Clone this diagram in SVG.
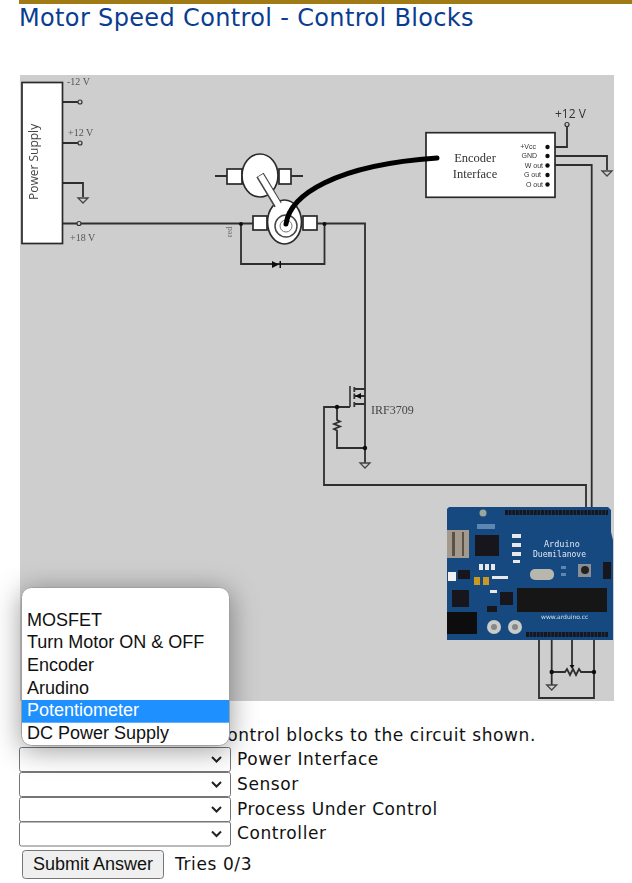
<svg xmlns="http://www.w3.org/2000/svg" width="632" height="883" viewBox="0 0 632 883">
<style>
.w{fill:none;stroke:#2e2e2e;stroke-width:1.8}
.b{fill:#fff;stroke:#2a2a2a;stroke-width:1.7}
.d{fill:#111}
.o{fill:#cecece;stroke:#333;stroke-width:1.2}
.s{font-family:"Liberation Serif",serif;fill:#555}
.p{font-family:"DejaVu Sans",sans-serif;fill:#111;font-size:17px;letter-spacing:.6px}
.a{font-family:"Liberation Sans",Arial,sans-serif;fill:#111;font-size:18px}
.l{font-family:"Liberation Sans",Arial,sans-serif;fill:#333;font-size:7px;text-anchor:end}
.sel{fill:#fff;stroke:#767676;stroke-width:1}
.chev{fill:none;stroke:#222;stroke-width:2}
.g{fill:none;stroke:#444;stroke-width:1.3}
.t{font-family:"DejaVu Sans",sans-serif;font-size:6px;fill:#cfe0f0}
.pad{fill:#e8e8e8}
.lb{fill:#5d86b4}
.blk{fill:#15181c}
.hdr{fill:none;stroke:#16181c;stroke-width:5;stroke-dasharray:3 .6}
</style>
<defs>
<filter id="soft" x="-5%" y="-5%" width="110%" height="110%"><feGaussianBlur stdDeviation="0.45"/></filter>
<filter id="shadow" x="-30%" y="-30%" width="160%" height="160%"><feDropShadow dx="0" dy="4" stdDeviation="14" flood-color="#000" flood-opacity="0.4"/></filter>
<g id="ground"><path class="g" d="M-5,0H5L0,5Z"/></g>
</defs>
<rect width="632" height="883" fill="#fff"/>
<rect x="19" y="0" width="613" height="4" fill="#a07a14"/>
<text x="19" y="26" font-family="'DejaVu Sans',sans-serif" font-size="24" letter-spacing=".35" fill="#0a3d91">Motor Speed Control - Control Blocks</text>
<g id="circuit" filter="url(#soft)">
<rect x="20" y="75" width="594" height="626" fill="#cecece"/>
<g id="connectors">
<path class="w" d="M62,102H78 M62,143H78 M62,183H83V197 M62,223.500H253 M317,223.500H365V389"/>
<path class="w" d="M241,224V264H324.500V224 M215,176H227 M291,176H303"/>
<path class="w" d="M365,389H354 M354,396H365 M354,404H365 M365,389V463"/>
<path class="w" d="M350,407H324V485H586V508"/>
<path class="w" d="M337,407V420l3,1.500-6,2.500 6,2.500-6,2.500 3,1.500V448H365"/>
<path class="w" d="M547,147H567V127 M547,156H607V170 M547,165H591.700V508"/>
<path class="w" d="M539,640V698H594V640 M551.700,640V685 M572,640V666 M551.700,672H565l2-3 3,6 3-6 3,6 3-6 2,3H594"/>
</g>
<g id="power-supply">
<rect class="b" x="22" y="82.500" width="40.500" height="161"/>
<text transform="translate(38,200) rotate(-90)" font-family="'Open Sans','DejaVu Sans',sans-serif" font-size="12" fill="#444">Power Supply</text>
<circle class="o" cx="80" cy="102" r="2"/><circle class="o" cx="80" cy="143" r="2"/><circle class="o" cx="79" cy="223.500" r="2"/>
<use href="#ground" x="83" y="198"/>
<text class="s" x="67" y="85" font-size="10">-12 V</text>
<text class="s" x="68" y="136" font-size="10">+12 V</text>
<text class="s" x="70" y="241" font-size="10">+18 V</text>
</g>
<g id="motor-top">
<rect class="b" x="227" y="169" width="15" height="15"/><rect class="b" x="279" y="169" width="12" height="15"/>
<ellipse class="b" cx="260" cy="175.500" rx="18" ry="21.500"/>
</g>
<g id="motor-bottom">
<rect class="b" x="253" y="216" width="14" height="14"/><rect class="b" x="303" y="216" width="14" height="14"/>
<ellipse class="b" cx="284.500" cy="222" rx="17" ry="22"/>
<path d="M260,175L278,205" stroke="#444" stroke-width="8.500"/>
<path d="M260.500,175.500L279,206" stroke="#fff" stroke-width="6"/>
<circle cx="286" cy="226" r="11" fill="#fff" stroke="#444" stroke-width="1.500"/><circle cx="286" cy="226" r="6" fill="#fff" stroke="#777"/>
<circle class="d" cx="241" cy="224" r="2"/><circle class="d" cx="324.500" cy="224" r="2"/>
<path class="d" d="M272,261L279,264.500L272,268Z M279.500,261H281V268H279.500Z"/>
<text transform="translate(232,237) rotate(-90)" font-family="'Liberation Serif',serif" font-size="8" fill="#666">red</text>
</g>
<g id="encoder">
<rect class="b" x="426" y="132.700" width="129" height="64.600"/>
<text x="475" y="162" text-anchor="middle" font-family="'Liberation Serif',serif" font-size="12.500" fill="#333">Encoder</text>
<text x="475" y="178" text-anchor="middle" font-family="'Liberation Serif',serif" font-size="12.500" fill="#333">Interface</text>
<text class="l" x="536" y="149">+Vcc</text><text class="l" x="537" y="158">GND</text><text class="l" x="543" y="167.500">W out</text><text class="l" x="541" y="177">G out</text><text class="l" x="543" y="187">O out</text>
<circle class="d" cx="547.500" cy="147" r="2.200"/><circle class="d" cx="547.500" cy="156" r="2.200"/><circle class="d" cx="547.500" cy="165.500" r="2.200"/><circle class="d" cx="547.500" cy="175" r="2.200"/><circle class="d" cx="547.500" cy="184.500" r="2.200"/>
<circle class="o" cx="567" cy="124.500" r="2"/>
<text x="555" y="118" font-family="'Open Sans','DejaVu Sans',sans-serif" font-size="12" fill="#333">+12 V</text>
<use href="#ground" x="607" y="171"/>
</g>
<path id="encoder-cable" d="M286,224C290,195 335,165 437,158" fill="none" stroke="#000" stroke-width="5" stroke-linecap="round"/>
<g id="mosfet">
<path d="M350,386V407" stroke="#333" stroke-width="1.600"/>
<path d="M354.300,387V392 M354.300,393.500V399 M354.300,402V407" stroke="#333" stroke-width="1.800"/>
<path class="d" d="M355,396L361,393V399Z"/>
<circle class="d" cx="337" cy="407" r="2.200"/><circle class="d" cx="365" cy="448" r="2.200"/>
<use href="#ground" x="365" y="463"/>
<text class="s" x="371" y="414" font-size="12" style="fill:#444">IRF3709</text>
</g>
<g id="arduino">
<path d="M449,507H608L611,510V532L613,540V640H447V509Z" fill="#164a80"/>
<path class="hdr" d="M505,512.500H608"/>
<path class="hdr" d="M526,634.500H608"/>
<rect x="447" y="530" width="22" height="28" fill="#a39a8d"/>
<rect x="452" y="532" width="3" height="24" fill="#5a5148"/>
<rect x="462" y="532" width="2" height="24" fill="#5a5148"/>
<circle cx="483" cy="513" r="3.500" fill="#9aa89c"/>
<rect x="475" y="535" width="24" height="21" class="blk"/>
<rect x="477" y="524" width="18" height="5" class="lb"/>
<rect x="479" y="564" width="4" height="6" class="pad"/><rect x="485" y="564" width="4" height="6" class="pad"/><rect x="491" y="564" width="4" height="6" class="pad"/>
<rect x="448" y="572" width="8" height="9" fill="#f0f0f0"/>
<rect x="458" y="570" width="12" height="9" class="blk"/>
<rect x="474" y="577" width="6" height="8" fill="#c89a20"/><rect x="483" y="577" width="6" height="8" fill="#c89a20"/>
<rect x="452" y="590" width="17" height="17" class="blk"/>
<rect x="500" y="592" width="13" height="13" class="blk"/>
<rect x="487" y="606" width="10" height="6" class="blk"/>
<rect x="492" y="576" width="16" height="3" class="pad"/><rect x="490" y="590" width="7" height="3" class="pad"/>
<rect x="447" y="612" width="30" height="22" fill="#0e0f10"/>
<circle cx="494" cy="627" r="7" fill="#c9ccc8"/><circle cx="515" cy="627" r="7" fill="#c9ccc8"/>
<circle cx="494" cy="627" r="3" fill="#888"/><circle cx="515" cy="627" r="3" fill="#888"/>
<rect x="530" y="569" width="24" height="11" rx="5" fill="#b7b7ae"/>
<rect x="512" y="534" width="9" height="4" class="pad"/><rect x="512" y="543" width="9" height="4" class="pad"/><rect x="512" y="552" width="9" height="4" class="pad"/><rect x="513" y="560" width="7" height="3" class="pad"/>
<rect x="561" y="566" width="5" height="3" class="lb"/><rect x="561" y="573" width="5" height="3" class="lb"/>
<rect x="578" y="564" width="13" height="13" fill="#8a8f94"/><circle cx="585" cy="570" r="4" fill="#222"/>
<rect x="603" y="562" width="8" height="17" class="blk"/>
<rect x="517" y="588" width="90" height="24" fill="#141517"/>
<text x="544" y="547" font-family="'DejaVu Sans Mono',monospace" font-size="8.500" fill="#dfe8f2">Arduino</text>
<text x="533" y="557" font-family="'DejaVu Sans Mono',monospace" font-size="8" fill="#dfe8f2">Duemilanove</text>
<text x="541" y="619" class="t">www.arduino.cc</text>
</g>
<g id="potentiometer">
<circle class="d" cx="551.700" cy="672" r="2.200"/><circle class="d" cx="594" cy="672" r="2.200"/>
<path class="d" d="M569.500,665H574.500L572,669Z"/>
<use href="#ground" x="551.700" y="685"/>
</g>
</g>
<g id="form">
<text class="p" x="536" y="741" text-anchor="end">control blocks to the circuit shown.</text>
<g id="select-1"><rect class="sel" x="19.500" y="747.500" width="211" height="24" rx="2"/><path class="chev" d="M212,757l4.500,4.500 4.500-4.500"/><text class="p" x="237" y="765">Power Interface</text></g>
<g id="select-2"><rect class="sel" x="19.500" y="772.500" width="211" height="24" rx="2"/><path class="chev" d="M212,782l4.500,4.500 4.500-4.500"/><text class="p" x="237" y="790">Sensor</text></g>
<g id="select-3"><rect class="sel" x="19.500" y="797.500" width="211" height="24" rx="2"/><path class="chev" d="M212,807l4.500,4.500 4.500-4.500"/><text class="p" x="237" y="815">Process Under Control</text></g>
<g id="select-4"><rect class="sel" x="19.500" y="822" width="211" height="24" rx="2"/><path class="chev" d="M212,831.500l4.500,4.500 4.500-4.500"/><text class="p" x="237" y="839">Controller</text></g>
<g id="submit"><rect x="22.500" y="850.500" width="141" height="28" rx="3" fill="#efefef" stroke="#767676"/><text class="a" x="93" y="870" text-anchor="middle">Submit Answer</text></g>
<text class="p" x="175" y="870">Tries 0/3</text>
</g>
<g id="dropdown">
<rect x="21.500" y="587.500" width="208" height="158" rx="10" fill="#fff" stroke="#a0a0a0" filter="url(#shadow)"/>
<rect x="22" y="700" width="207" height="22.700" fill="#1e90ff"/>
<text class="a" x="27" y="625.500">MOSFET</text>
<text class="a" x="27" y="648">Turn Motor ON &amp; OFF</text>
<text class="a" x="27" y="671">Encoder</text>
<text class="a" x="27" y="693.500">Arudino</text>
<text class="a" x="27" y="716" style="fill:#fff">Potentiometer</text>
<text class="a" x="27" y="739">DC Power Supply</text>
</g>
</svg>
